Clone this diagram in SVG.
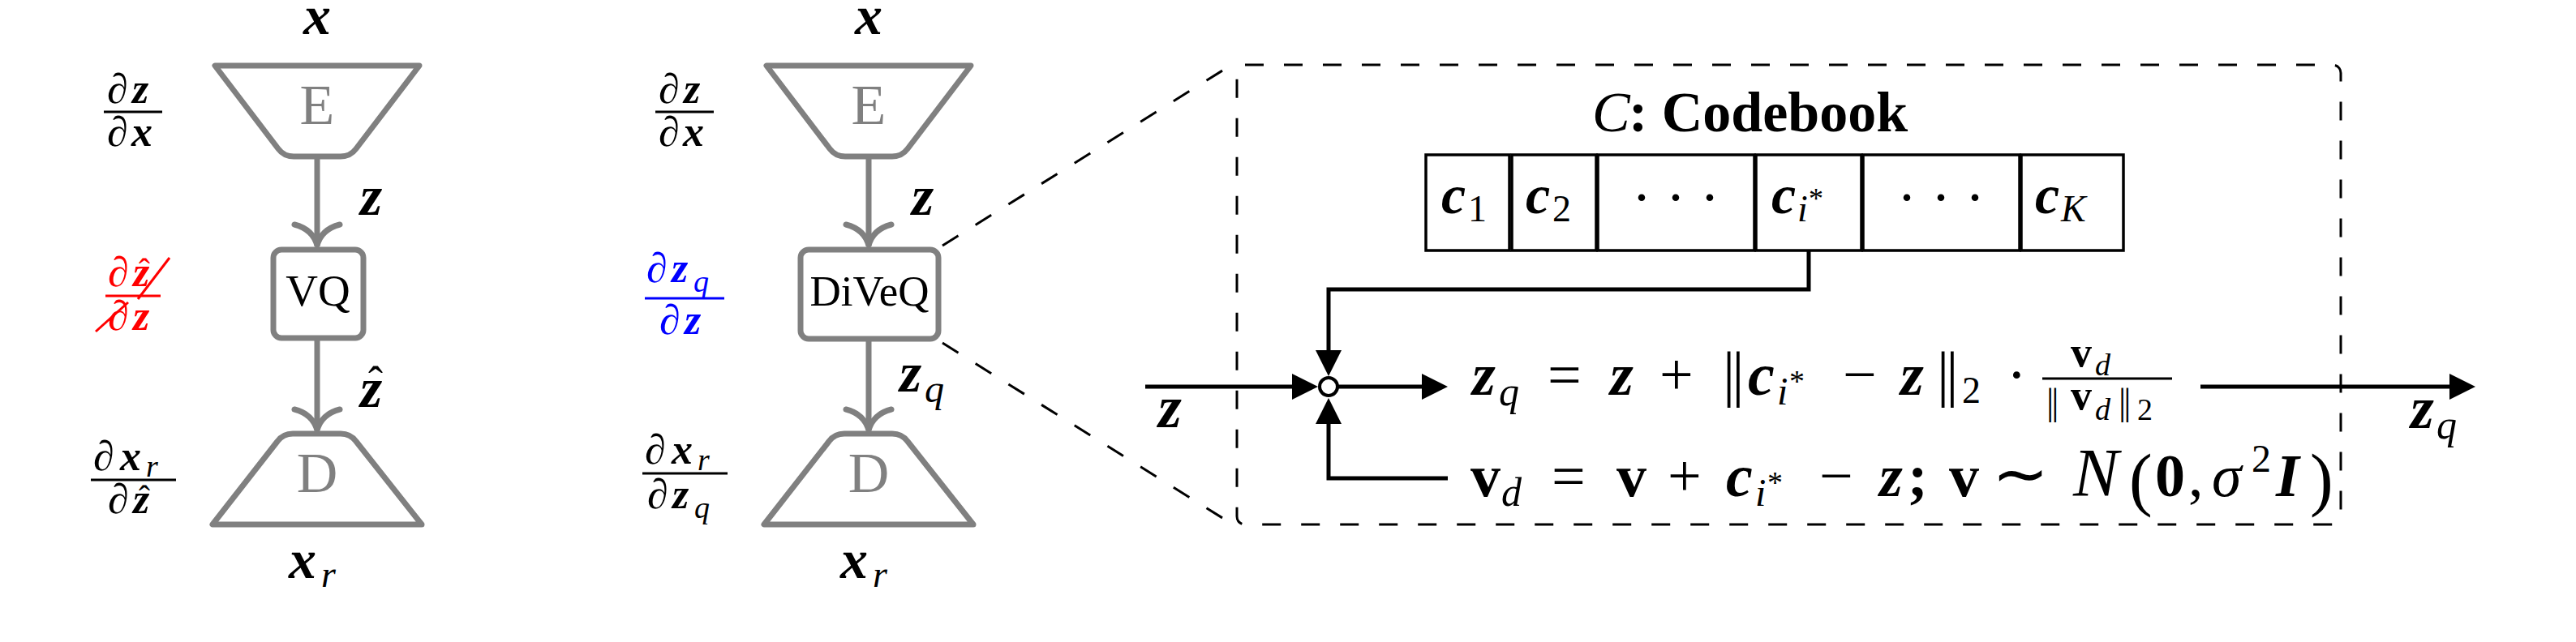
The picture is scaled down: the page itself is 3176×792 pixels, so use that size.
<svg xmlns="http://www.w3.org/2000/svg" width="3176" height="792" viewBox="0 0 3176 792" font-family="Liberation Serif">
<style>
.g{fill:none;stroke:#808080;stroke-width:7;stroke-linejoin:round;stroke-linecap:round}
.ah{fill:none;stroke:#808080;stroke-width:7;stroke-linecap:round}
.blk{fill:none;stroke:#000;stroke-width:5}
.dash{fill:none;stroke:#000;stroke-width:3;stroke-dasharray:23 25}
.cell{fill:#fff;stroke:#000;stroke-width:3.5}
.fr{stroke:#000;stroke-width:3}
</style>
<defs>
<marker id="tri" viewBox="0 0 32 32" refX="0" refY="16" markerWidth="32" markerHeight="32" markerUnits="userSpaceOnUse" orient="auto">
<path d="M0,0 L32,16 L0,32 Z" fill="#000"/>
</marker>
</defs>

<!-- Left column: VQ -->
<g id="vq-x-label"><text font-family="Liberation Serif" font-weight="bold" font-style="italic" x="391" y="42" font-size="68" text-anchor="middle">x</text></g>
<g id="vq-encoder">
<path class="g" d="M265,81 L517,81 L439,183.5 Q432,193 420,193 L362,193 Q350,193 343,183.5 Z"/>
<text font-family="Liberation Serif" fill="#808080" x="391" y="153" font-size="70" text-anchor="middle">E</text>
</g>
<g id="vq-box">
<rect class="g" x="337" y="308" width="111" height="109" rx="10" fill="#fff"/>
<text font-family="Liberation Serif" x="392" y="377" font-size="55" text-anchor="middle">VQ</text>
</g>
<g id="vq-decoder">
<path class="g" d="M262,647 L520,647 L439,544.5 Q432,535 420,535 L361,535 Q349,535 342,544.5 Z"/>
<text font-family="Liberation Serif" fill="#808080" x="391" y="607" font-size="70" text-anchor="middle">D</text>
</g>
<g id="vq-xr-label">
<text font-family="Liberation Serif" font-weight="bold" font-style="italic" x="356" y="713" font-size="68">x</text>
<text font-family="Liberation Serif" font-style="italic" x="396" y="724" font-size="46">r</text>
</g>
<g id="vq-grad1">
<text font-family="Liberation Serif" x="132" y="127" font-size="52">∂</text>
<text font-family="Liberation Serif" font-weight="bold" font-style="italic" x="163" y="127" font-size="52">z</text>
<line class="fr" x1="128" y1="138" x2="200" y2="138"/>
<text font-family="Liberation Serif" x="132" y="180" font-size="52">∂</text>
<text font-family="Liberation Serif" font-weight="bold" font-style="italic" x="162" y="180" font-size="52">x</text>
</g>
<g id="vq-grad2">
<text font-family="Liberation Serif" fill="#f00" x="133" y="353" font-size="52">∂</text>
<text font-family="Liberation Serif" font-weight="bold" font-style="italic" fill="#f00" x="164" y="353" font-size="52">z</text>
<text font-family="Liberation Serif" fill="#f00" x="178" y="348" font-size="42" text-anchor="middle">ˆ</text>
<line x1="130" y1="365" x2="198" y2="365" stroke="#f00" stroke-width="3"/>
<text font-family="Liberation Serif" fill="#f00" x="133" y="407" font-size="52">∂</text>
<text font-family="Liberation Serif" font-weight="bold" font-style="italic" fill="#f00" x="164" y="407" font-size="52">z</text>
<line x1="170" y1="369" x2="209" y2="318" stroke="#f00" stroke-width="3"/>
<line x1="118" y1="409" x2="158" y2="373" stroke="#f00" stroke-width="3"/>
</g>
<g id="vq-grad3">
<text font-family="Liberation Serif" x="115" y="580" font-size="52">∂</text>
<text font-family="Liberation Serif" font-weight="bold" font-style="italic" x="148" y="580" font-size="52">x</text>
<text font-family="Liberation Serif" font-style="italic" x="180" y="588" font-size="38">r</text>
<line class="fr" x1="112" y1="592" x2="217" y2="592"/>
<text font-family="Liberation Serif" x="133" y="633" font-size="52">∂</text>
<text font-family="Liberation Serif" font-weight="bold" font-style="italic" x="164" y="633" font-size="52">z</text>
<text font-family="Liberation Serif" x="178" y="628" font-size="42" text-anchor="middle">ˆ</text>
</g>

<!-- Right column: DiVeQ -->
<g id="dv-x-label"><text font-family="Liberation Serif" font-weight="bold" font-style="italic" x="1071" y="42" font-size="68" text-anchor="middle">x</text></g>
<g id="dv-encoder">
<path class="g" d="M945,81 L1197,81 L1119,183.5 Q1112,193 1100,193 L1042,193 Q1030,193 1023,183.5 Z"/>
<text font-family="Liberation Serif" fill="#808080" x="1071" y="153" font-size="70" text-anchor="middle">E</text>
</g>
<g id="dv-box">
<rect class="g" x="987" y="308" width="170" height="110" rx="10" fill="#fff"/>
<text font-family="Liberation Serif" x="1072" y="377" font-size="53" text-anchor="middle">DiVeQ</text>
</g>
<g id="dv-decoder">
<path class="g" d="M942,647 L1200,647 L1119,544.5 Q1112,535 1100,535 L1041,535 Q1029,535 1022,544.5 Z"/>
<text font-family="Liberation Serif" fill="#808080" x="1071" y="607" font-size="70" text-anchor="middle">D</text>
</g>
<g id="dv-xr-label">
<text font-family="Liberation Serif" font-weight="bold" font-style="italic" x="1036" y="713" font-size="68">x</text>
<text font-family="Liberation Serif" font-style="italic" x="1076" y="724" font-size="46">r</text>
</g>
<g id="dv-grad1">
<text font-family="Liberation Serif" x="812" y="127" font-size="52">∂</text>
<text font-family="Liberation Serif" font-weight="bold" font-style="italic" x="843" y="127" font-size="52">z</text>
<line class="fr" x1="808" y1="138" x2="880" y2="138"/>
<text font-family="Liberation Serif" x="812" y="180" font-size="52">∂</text>
<text font-family="Liberation Serif" font-weight="bold" font-style="italic" x="842" y="180" font-size="52">x</text>
</g>
<g id="dv-grad2">
<text font-family="Liberation Serif" fill="#00f" x="797" y="348" font-size="52">∂</text>
<text font-family="Liberation Serif" font-weight="bold" font-style="italic" fill="#00f" x="828" y="348" font-size="52">z</text>
<text font-family="Liberation Serif" font-style="italic" fill="#00f" x="855" y="360" font-size="38">q</text>
<line x1="795" y1="368" x2="893" y2="368" stroke="#00f" stroke-width="3"/>
<text font-family="Liberation Serif" fill="#00f" x="813" y="412" font-size="52">∂</text>
<text font-family="Liberation Serif" font-weight="bold" font-style="italic" fill="#00f" x="844" y="412" font-size="52">z</text>
</g>
<g id="dv-grad3">
<text font-family="Liberation Serif" x="795" y="572" font-size="52">∂</text>
<text font-family="Liberation Serif" font-weight="bold" font-style="italic" x="828" y="572" font-size="52">x</text>
<text font-family="Liberation Serif" font-style="italic" x="860" y="580" font-size="38">r</text>
<line class="fr" x1="792" y1="584" x2="897" y2="584"/>
<text font-family="Liberation Serif" x="798" y="627" font-size="52">∂</text>
<text font-family="Liberation Serif" font-weight="bold" font-style="italic" x="829" y="627" font-size="52">z</text>
<text font-family="Liberation Serif" font-style="italic" x="856" y="639" font-size="38">q</text>
</g>

<!-- Codebook panel -->
<g id="panel">
<rect class="dash" x="1525" y="80" width="1361" height="567" rx="10"/>
</g>
<g id="codebook">
<text font-family="Liberation Serif" font-style="italic" x="1963" y="162" font-size="70">C</text>
<text font-family="Liberation Serif" font-weight="bold" x="2008" y="162" font-size="70">: Codebook</text>
<rect class="cell" x="1758" y="191" width="103" height="118"/>
<rect class="cell" x="1864" y="191" width="104" height="118"/>
<rect class="cell" x="1970" y="191" width="193" height="118"/>
<rect class="cell" x="2165" y="191" width="130" height="118" fill="#c7d5e8"/>
<rect class="cell" x="2297" y="191" width="193" height="118"/>
<rect class="cell" x="2492" y="191" width="126" height="118"/>
<text font-family="Liberation Serif" font-weight="bold" font-style="italic" x="1777" y="263" font-size="68">c</text>
<text font-family="Liberation Serif" x="1810" y="273" font-size="46">1</text>
<text font-family="Liberation Serif" font-weight="bold" font-style="italic" x="1881" y="263" font-size="68">c</text>
<text font-family="Liberation Serif" x="1914" y="273" font-size="46">2</text>
<text font-family="Liberation Serif" x="2066" y="268" font-size="72" text-anchor="middle">· · ·</text>
<text font-family="Liberation Serif" font-weight="bold" font-style="italic" x="2184" y="263" font-size="68">c</text>
<text font-family="Liberation Serif" font-style="italic" x="2216" y="273" font-size="46">i</text>
<text font-family="Liberation Serif" x="2230" y="257" font-size="36">*</text>
<text font-family="Liberation Serif" x="2393" y="268" font-size="72" text-anchor="middle">· · ·</text>
<text font-family="Liberation Serif" font-weight="bold" font-style="italic" x="2509" y="263" font-size="68">c</text>
<text font-family="Liberation Serif" font-style="italic" x="2541" y="273" font-size="46">K</text>
</g>
<g id="merge"><circle cx="1638" cy="477" r="11" fill="#fff" stroke="#000" stroke-width="4"/></g>

<g id="eq1">
<text font-family="Liberation Serif" font-weight="bold" font-style="italic" x="1815" y="487" font-size="74">z</text>
<text font-family="Liberation Serif" font-style="italic" x="1848" y="500" font-size="50">q</text>
<text font-family="Liberation Serif" x="1908" y="487" font-size="74">=</text>
<text font-family="Liberation Serif" font-weight="bold" font-style="italic" x="1985" y="487" font-size="74">z</text>
<text font-family="Liberation Serif" x="2046" y="487" font-size="74">+</text>
<text font-family="Liberation Serif" x="2124" y="487" font-size="76" letter-spacing="-4">||</text>
<text font-family="Liberation Serif" font-weight="bold" font-style="italic" x="2155" y="487" font-size="74">c</text>
<text font-family="Liberation Serif" font-style="italic" x="2191" y="499" font-size="48">i</text>
<text font-family="Liberation Serif" x="2206" y="483" font-size="38">*</text>
<text font-family="Liberation Serif" x="2272" y="487" font-size="74">−</text>
<text font-family="Liberation Serif" font-weight="bold" font-style="italic" x="2343" y="487" font-size="74">z</text>
<text font-family="Liberation Serif" x="2388" y="487" font-size="76" letter-spacing="-4">||</text>
<text font-family="Liberation Serif" x="2419" y="497" font-size="46">2</text>
<text font-family="Liberation Serif" x="2474" y="487" font-size="74">·</text>
<line class="fr" x1="2518" y1="467" x2="2678" y2="467"/>
<text font-family="Liberation Serif" font-weight="bold" x="2553" y="452" font-size="52">v</text>
<text font-family="Liberation Serif" font-style="italic" x="2583" y="463" font-size="38">d</text>
<text font-family="Liberation Serif" x="2523" y="511" font-size="46" letter-spacing="-3">||</text>
<text font-family="Liberation Serif" font-weight="bold" x="2553" y="505" font-size="52">v</text>
<text font-family="Liberation Serif" font-style="italic" x="2583" y="518" font-size="38">d</text>
<text font-family="Liberation Serif" x="2612" y="511" font-size="46" letter-spacing="-3">||</text>
<text font-family="Liberation Serif" x="2635" y="518" font-size="38">2</text>
</g>
<g id="eq2">
<text font-family="Liberation Serif" font-weight="bold" x="1813" y="612" font-size="74">v</text>
<text font-family="Liberation Serif" font-style="italic" x="1851" y="624" font-size="50">d</text>
<text font-family="Liberation Serif" x="1913" y="612" font-size="74">=</text>
<text font-family="Liberation Serif" font-weight="bold" x="1993" y="612" font-size="74">v</text>
<text font-family="Liberation Serif" x="2056" y="612" font-size="74">+</text>
<text font-family="Liberation Serif" font-weight="bold" font-style="italic" x="2128" y="612" font-size="74">c</text>
<text font-family="Liberation Serif" font-style="italic" x="2164" y="624" font-size="48">i</text>
<text font-family="Liberation Serif" x="2179" y="608" font-size="38">*</text>
<text font-family="Liberation Serif" x="2243" y="612" font-size="74">−</text>
<text font-family="Liberation Serif" font-weight="bold" font-style="italic" x="2317" y="612" font-size="74">z</text>
<text font-family="Liberation Serif" font-weight="bold" x="2352" y="612" font-size="74">;</text>
<text font-family="Liberation Serif" font-weight="bold" x="2403" y="612" font-size="74">v</text>
<text font-family="Liberation Serif" x="2456" y="612" font-size="80" textLength="70" lengthAdjust="spacingAndGlyphs">∼</text>
<text font-family="Liberation Serif" font-style="italic" x="2556" y="612" font-size="84">N</text>
<text font-family="Liberation Serif" x="2625" y="620" font-size="86">(</text>
<text font-family="Liberation Serif" font-weight="bold" x="2657" y="612" font-size="74">0</text>
<text font-family="Liberation Serif" x="2698" y="612" font-size="74">,</text>
<text font-family="Liberation Serif" font-style="italic" x="2727" y="612" font-size="74">σ</text>
<text font-family="Liberation Serif" x="2776" y="582" font-size="48">2</text>
<text font-family="Liberation Serif" font-weight="bold" font-style="italic" x="2806" y="612" font-size="74">I</text>
<text font-family="Liberation Serif" x="2848" y="620" font-size="86">)</text>
</g>

<g id="io-labels">
<text font-family="Liberation Serif" font-weight="bold" font-style="italic" x="1428" y="527" font-size="74">z</text>
<text font-family="Liberation Serif" font-weight="bold" font-style="italic" x="2972" y="528" font-size="74">z</text>
<text font-family="Liberation Serif" font-style="italic" x="3004" y="541" font-size="50">q</text>
</g>

<g id="arrow-labels">
<text font-family="Liberation Serif" font-weight="bold" font-style="italic" x="444" y="265" font-size="70">z</text>
<text font-family="Liberation Serif" font-weight="bold" font-style="italic" x="444" y="502" font-size="70">z</text>
<text font-family="Liberation Serif" x="463" y="490" font-size="54" text-anchor="middle">ˆ</text>
<text font-family="Liberation Serif" font-weight="bold" font-style="italic" x="1124" y="265" font-size="70">z</text>
<text font-family="Liberation Serif" font-weight="bold" font-style="italic" x="1109" y="483" font-size="70">z</text>
<text font-family="Liberation Serif" font-style="italic" x="1140" y="496" font-size="48">q</text>
</g>

<g id="connectors">
<line class="ah" x1="391" y1="196" x2="391" y2="302"/>
<path class="ah" d="M363,277 Q386,283 391,303 Q396,283 419,277"/>
<line class="ah" x1="391" y1="420" x2="391" y2="529"/>
<path class="ah" d="M363,505 Q386,511 391,531 Q396,511 419,505"/>
<line class="ah" x1="1071" y1="196" x2="1071" y2="302"/>
<path class="ah" d="M1043,277 Q1066,283 1071,303 Q1076,283 1099,277"/>
<line class="ah" x1="1071" y1="421" x2="1071" y2="529"/>
<path class="ah" d="M1043,505 Q1066,511 1071,531 Q1076,511 1099,505"/>
<line class="dash" x1="1162" y1="303" x2="1512" y2="84"/>
<line class="dash" x1="1162" y1="423" x2="1512" y2="642"/>
<path class="blk" d="M2230,309 V357 H1638 V432" marker-end="url(#tri)"/>
<path class="blk" d="M1412,477 H1593" marker-end="url(#tri)"/>
<path class="blk" d="M1649,477 H1753" marker-end="url(#tri)"/>
<path class="blk" d="M1785,590 H1638 V523" marker-end="url(#tri)"/>
<path class="blk" d="M2713,477 H3020" marker-end="url(#tri)"/>
</g>
</svg>
